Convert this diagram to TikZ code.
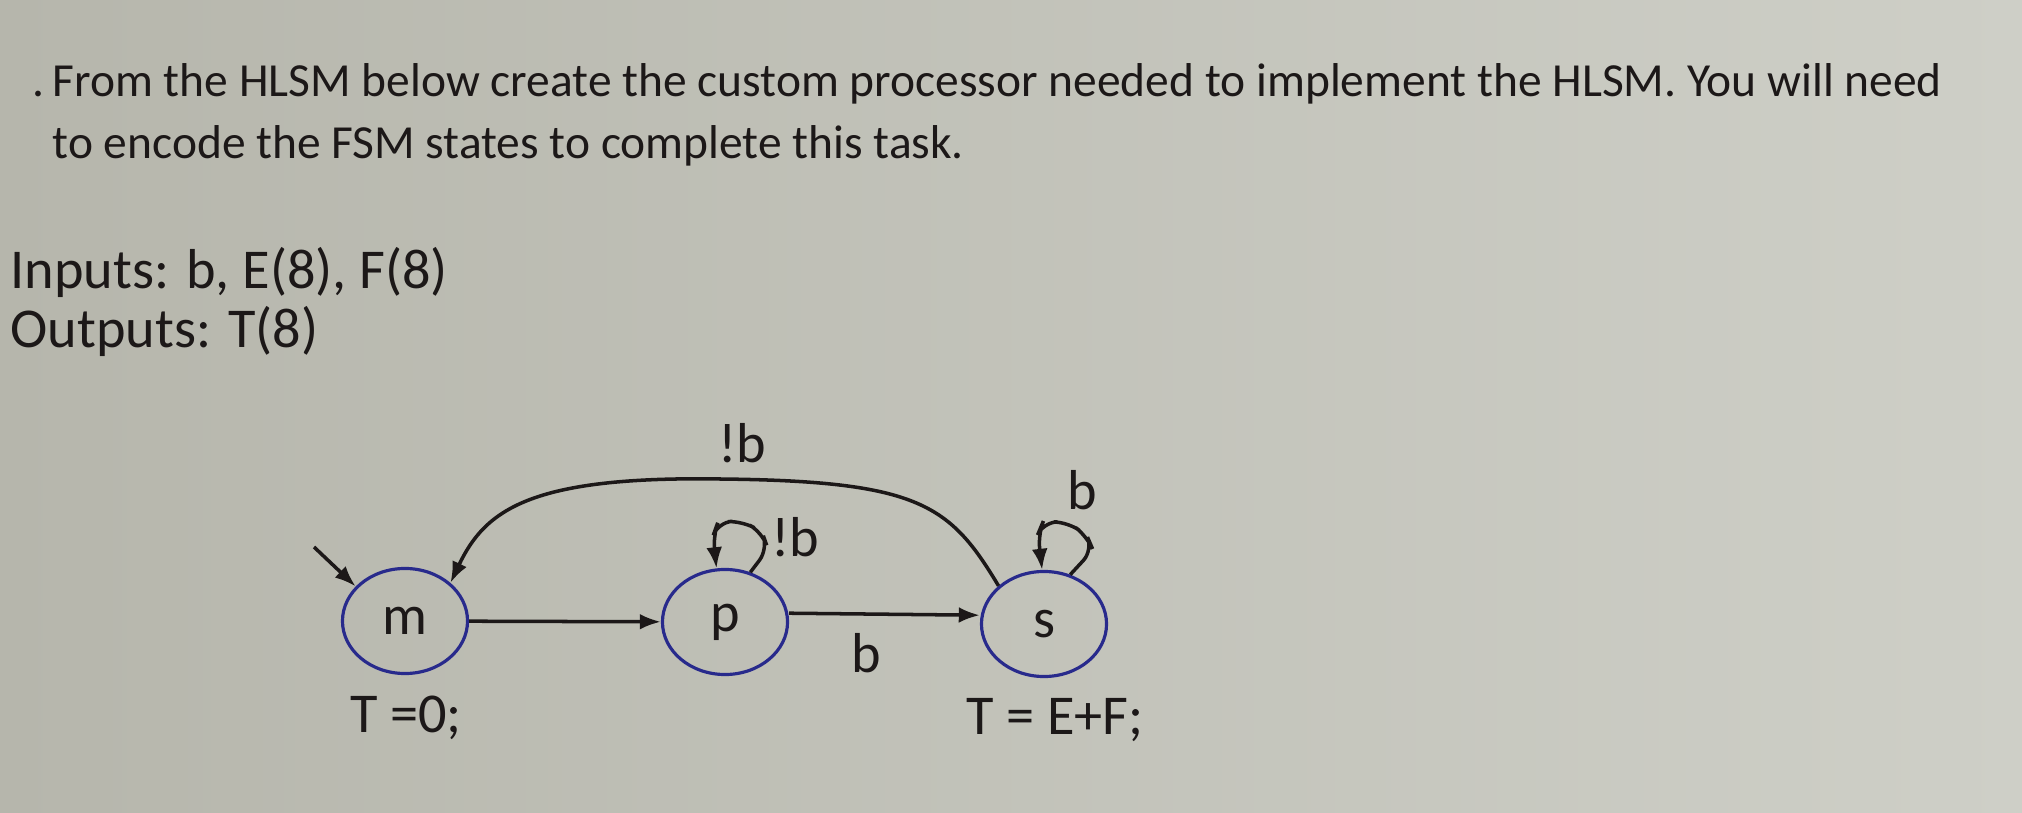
\documentclass[tikz,border=0pt]{standalone}
\usepackage{fontspec}
\setmainfont{Carlito}
\usetikzlibrary{arrows.meta,shapes.geometric}
\definecolor{bgL}{RGB}{182,182,172}
\definecolor{bgR}{RGB}{206,207,199}
\definecolor{ink}{RGB}{28,24,24}
\definecolor{stateblue}{RGB}{40,42,140}
\tikzset{
  txt/.style={text=ink,inner sep=0pt,anchor=base west},
  big/.style={font=\fontsize{13.5}{16}\selectfont},
  bigger/.style={font=\fontsize{16}{19}\selectfont},
  state/.style={ellipse,draw=stateblue,line width=0.9pt,minimum width=1.25cm,minimum height=1.05cm,
    inner sep=0pt,text=ink,font=\fontsize{16}{19}\selectfont},
  lbl/.style={text=ink,inner sep=0pt,font=\fontsize{16}{19}\selectfont},
  conn/.style={draw=ink,line width=1pt,-{Latex[length=6pt,width=4.5pt]}}
}
\begin{document}
\begin{tikzpicture}[x=0.01cm,y=-0.01cm]
\shade[left color=bgL,right color=bgR] (0,0) rectangle (2022,813);
\useasboundingbox (0,0) rectangle (2022,813);
% question text
\node[txt,big] (dot) at (32,97) {.};
\node[txt,big] (l1) at (52,97) {From the HLSM below create the custom processor needed to implement the HLSM. You will need};
\node[txt,big] (l2) at (52,159) {to encode the FSM states to complete this task.};
\node[txt,bigger] (inp) at (10,289) {Inputs: b, E(8), F(8)};
\node[txt,bigger] (outp) at (10,348) {Outputs: T(8)};
% states
\node[state] (m) at (405,621) {m};
\node[state] (p) at (725,622) {p};
\node[state] (s) at (1044,624) {s};
% initial arrow
\coordinate (init) at (314,547);
\draw[conn] (init) -- (m.145);
% transitions
\draw[conn] (m) -- (p);
\draw[conn] ([yshift=2.5pt]p.east) -- ([yshift=2.5pt]s.west);
\draw[conn] (s.140) .. controls (950,505) and (920,481) .. (720,479)
   .. controls (530,476) and (485,510) .. (m.40);
\draw[conn,rounded corners=4pt] (p.63) -- (768,549) -- (762,532) -- (742,521) -- (718,522) -- (713,536) -- (p.99);
\draw[conn,rounded corners=4pt] (s.62) -- (1093,550) -- (1087,536) -- (1068,522) -- (1043,522) -- (1038,534) -- (s.92);
% labels
\node[lbl] (lb1) at (866,653) {b};
\node[lbl] (lb2) at (742,443) {!b};
\node[lbl] (lb3) at (795,537) {!b};
\node[lbl] (lb4) at (1082,490) {b};
\node[lbl] (am) at (406,718) {T =0;};
\node[lbl] (as) at (1055,720) {T = E+F;};
\end{tikzpicture}
\end{document}
